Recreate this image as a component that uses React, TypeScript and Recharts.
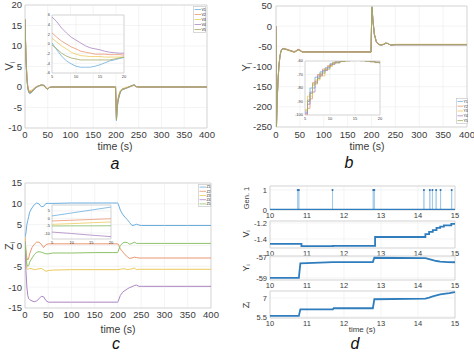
import React from "react";
import { LineChart, Line, XAxis, YAxis, CartesianGrid, ReferenceArea } from "recharts";

// ---- panel a : V_i over time ----
const tA = [0, 1, 2, 4, 6, 8, 10, 14, 18, 24, 30, 36, 42, 46, 50, 54, 60, 100, 150, 199, 200, 201, 202, 204, 207, 210, 215, 220, 230, 236, 240, 244, 250, 300, 350, 400];
const a1 = [16.5, 11.8, 7, 2.2, -0.3, -1.2, -1.6, -1.4, -0.9, -0.2, 0.2, 0.4, 0.4, -0.2, -0.5, -0.1, 0, 0, 0, 0, -4.2, -8.2, -6.2, -3.8, -2.2, -1.2, -0.6, -0.4, 0, 0.3, 0.5, 0.1, 0, 0, 0, 0];
const a2 = [16.5, 12.5, 8, 3, 0.3, -0.8, -1.2, -1.0, -0.6, 0, 0.3, 0.5, 0.3, -0.2, -0.4, -0.1, 0, 0, 0, 0, -3.8, -7.6, -5.8, -3.2, -1.8, -0.9, -0.4, -0.3, 0.1, 0.3, 0.4, 0.1, 0, 0, 0, 0];
const a3 = [16.5, 12, 7.5, 2.8, 0.2, -0.6, -0.9, -0.8, -0.5, 0, 0.3, 0.4, 0.3, -0.2, -0.4, -0.1, 0, 0, 0, 0, -3.6, -7.4, -5.5, -3, -1.6, -0.8, -0.4, -0.2, 0.1, 0.3, 0.4, 0.1, 0, 0, 0, 0];
const a4 = [16.5, 12, 7.5, 2.5, 0, -1, -1.4, -1.2, -0.7, -0.1, 0.3, 0.5, 0.4, -0.3, -0.5, -0.1, 0, 0, 0, 0, -4, -8, -6, -3.5, -2, -1, -0.5, -0.4, 0.1, 0.4, 0.5, 0.1, 0, 0, 0, 0];
const a5 = [16.5, 12, 7.2, 2.3, -0.2, -1.1, -1.5, -1.3, -0.8, -0.1, 0.3, 0.5, 0.4, -0.3, -0.5, -0.1, 0, 0, 0, 0, -4, -8, -6, -3.6, -2.1, -1.1, -0.5, -0.4, 0.1, 0.4, 0.5, 0.1, 0, 0, 0, 0];

const tAi = [5, 6, 7, 8, 9, 10, 11, 12, 13, 14, 15, 16, 17, 18, 19, 20];
const ai1 = [0.2, -1.2, -2.5, -3.5, -4.1, -4.6, -4.8, -4.8, -4.8, -4.6, -4.3, -3.9, -3.5, -3.3, -3.0, -2.8];
const ai2 = [2.3, 1.4, 0.6, 0.0, -0.6, -1.0, -1.5, -1.7, -1.9, -2.1, -2.1, -2.1, -2.2, -2.2, -2.2, -2.3];
const ai3 = [1.2, 0.4, -0.4, -1.0, -1.7, -2.1, -2.4, -2.5, -2.6, -2.6, -2.6, -2.7, -2.7, -2.7, -2.7, -2.7];
const ai4 = [5.6, 4.6, 3.3, 2.3, 1.4, 0.8, 0.2, -0.4, -0.8, -1.0, -1.2, -1.5, -1.7, -1.8, -1.9, -1.9];
const ai5 = [-0.2, -1.0, -1.9, -2.5, -2.9, -3.1, -3.3, -3.3, -3.3, -3.3, -3.3, -3.3, -3.3, -3.1, -2.9, -2.7];

// ---- panel b : Y_i ----
const tB = [0, 0.5, 1, 2, 4, 6, 8, 10, 12, 15, 20, 25, 30, 38, 42, 46, 50, 55, 60, 100, 150, 199, 200, 201, 203, 206, 210, 215, 220, 226, 230, 234, 240, 250, 300, 350, 400];
const b1 = [0, -240, -250, -200, -140, -100, -78, -64, -58, -56, -57, -59, -61, -64, -62, -58, -60, -64, -64, -64, -64, -64, 0, 48, 15, -20, -38, -45, -47, -45, -42, -43, -47, -46, -46, -46, -46];
const b2 = [0, -238, -249, -198, -138, -98, -76, -63, -57, -55, -56, -58, -60, -63, -61, -57, -59, -63, -63, -63, -63, -63, 0, 46, 13, -21, -39, -46, -47, -45, -43, -43, -47, -46, -46, -46, -46];
const b3 = [0, -242, -250, -202, -142, -102, -79, -65, -59, -57, -58, -60, -62, -65, -63, -59, -61, -65, -65, -65, -65, -65, 0, 47, 14, -19, -37, -44, -46, -44, -42, -43, -46, -45, -45, -45, -45];
const b4 = [0, -240, -250, -201, -141, -101, -77, -64, -58, -56, -57, -59, -61, -64, -62, -58, -60, -64, -64, -64, -64, -64, 0, 47, 15, -20, -38, -45, -47, -45, -42, -43, -47, -46, -46, -46, -46];
const b5 = [0, -240, -250, -200, -140, -100, -78, -64, -58, -56, -57, -59, -61, -64, -62, -58, -60, -64, -64, -64, -64, -64, 0, 48, 15, -20, -38, -45, -47, -45, -42, -43, -47, -46, -46, -46, -46];

const tBi = [5, 5.5, 6, 6.5, 7, 7.5, 8, 8.5, 9, 9.5, 10, 10.5, 11, 12, 13, 14, 15, 16, 17, 18, 19, 20];
const bi1 = [-98, -90, -80, -80, -72, -72, -68, -68, -65, -65, -62, -62, -60.5, -59.8, -59.5, -59.3, -59.2, -59.4, -59.7, -60.2, -60.8, -61.5];
const bi2 = [-100, -95, -88, -76, -76, -70, -70, -66, -66, -63.5, -63.5, -61, -61, -60, -59.6, -59.4, -59.3, -59.5, -59.8, -60.3, -60.9, -61.6];
const bi3 = [-96, -86, -86, -78, -74, -74, -71, -71, -67, -64, -64, -62, -60.8, -60.1, -59.7, -59.5, -59.4, -59.6, -59.9, -60.4, -61, -61.7];
const bi4 = [-99, -92, -83, -83, -75, -71, -71, -67, -67, -64.5, -62.5, -62.5, -61, -60.2, -59.8, -59.6, -59.5, -59.7, -60, -60.5, -61.1, -61.8];
const bi5 = [-97, -89, -84, -77, -77, -73, -69, -69, -66, -66, -63, -61.5, -61.5, -60.4, -59.9, -59.7, -59.6, -59.8, -60.1, -60.6, -61.2, -61.9];

// ---- panel c : Z_i ----
const tC = [0, 2, 4, 6, 8, 10, 15, 20, 25, 30, 35, 40, 45, 50, 60, 100, 150, 199, 200, 205, 210, 215, 220, 225, 230, 235, 240, 245, 250, 300, 350, 400];
const c1 = [2, 3, 5, 6, 7, 8, 9, 9.8, 10.2, 10, 9.3, 9.4, 10.1, 10.1, 10.1, 10.2, 10.2, 10.2, 10.1, 8.5, 7.5, 6.8, 6.2, 5.5, 4.8, 4.9, 5.1, 4.9, 4.8, 4.8, 4.8, 4.8];
const c2 = [2, -1, -3, -3.5, -3, -2, -0.5, 0.3, 0.8, 0.8, 0.3, -0.5, 0.2, 0.4, 0.4, 0.4, 0.4, 0.4, 0.4, -0.8, -1.5, -2.2, -2.7, -3.1, -3.0, -2.8, -2.9, -3, -3, -3, -3, -3];
const c3 = [2, -3, -5.5, -5.8, -5.6, -5.5, -5.6, -5.8, -5.7, -5.6, -5.5, -5.8, -6.2, -6, -5.9, -5.8, -5.8, -5.8, -5.8, -5.7, -5.6, -5.6, -5.8, -5.7, -5.6, -5.4, -5.8, -5.7, -5.7, -5.7, -5.7, -5.7];
const c4 = [1, -6, -10, -12, -12.8, -13, -13.3, -13.5, -13.3, -12.8, -12.2, -12.3, -13.2, -13.6, -13.6, -13.6, -13.6, -13.6, -13.5, -12, -11.2, -10.8, -10.4, -10.1, -9.9, -9.6, -9.5, -9.8, -9.8, -9.8, -9.8, -9.8];
const c5 = [1, -2, -4.5, -5, -4.8, -4, -3, -2.2, -1.6, -1.5, -1.6, -1.8, -2, -2, -1.8, -1.8, -1.7, -1.7, -1.5, 0, 0.6, 0.8, 0.7, 0.3, 0.5, 0.8, 0.5, 0.5, 0.5, 0.5, 0.5, 0.5];

const tCi = [5, 10, 15, 20];
const ci1 = [1.6, 3.6, 5.6, 7.6];
const ci2 = [-1.8, -1.3, -0.8, -0.3];
const ci3 = [-4.1, -3.6, -3.0, -2.5];
const ci4 = [-9.3, -10.3, -11.4, -12.4];
const ci5 = [-5.2, -5.1, -5.1, -5.0];

// ---- panel d : zoom 10..15 s ----
const genT = [10.75, 10.78, 11.69, 12.79, 12.82, 14.16, 14.32, 14.39, 14.49, 14.61, 14.91];
const genBase = [10, 15];
const vT = [10, 10.75, 10.85, 11.7, 12.78, 12.84, 14.15, 14.2, 14.3, 14.4, 14.5, 14.6, 14.7, 14.9, 15];
const vV = [-1.46, -1.46, -1.49, -1.485, -1.485, -1.375, -1.375, -1.34, -1.31, -1.29, -1.26, -1.245, -1.23, -1.21, -1.2];
const yT = [10, 10.78, 10.82, 11.7, 12.78, 12.82, 14.2, 14.3, 14.4, 14.5, 14.6, 14.8, 15];
const yV = [-59, -59, -57.6, -57.48, -57.48, -57.07, -57.1, -57.2, -57.3, -57.38, -57.44, -57.48, -57.5];
const zT = [10, 10.78, 10.82, 11.7, 11.72, 12.78, 12.82, 14.2, 14.3, 14.4, 14.5, 14.6, 14.7, 14.85, 15];
const zV = [5.58, 5.58, 6.1, 6.1, 6.19, 6.19, 6.9, 6.95, 7.03, 7.12, 7.2, 7.28, 7.33, 7.38, 7.47];

const mainX = [0, 50, 100, 150, 200, 250, 300, 350, 400];
const insetX = [5, 10, 15, 20];
const dX = [10, 11, 12, 13, 14, 15];

const COLORS = ["#6aaee0", "#ea9670", "#ecc95c", "#ab85c3", "#a3aa62"];
const COLORS_C = ["#6aaee0", "#ea9670", "#ecc95c", "#ab85c3", "#8dc26a"];
const BLUE = "#2f7dbd";
const INK = "#3a3a3a";
const FONT = '"Liberation Sans", Arial, sans-serif';

type Box = { l: number; t: number; r: number; b: number };

function rows(t: number[], series: number[][]) {
  return t.map((x, i) => {
    const r: any = { t: x };
    series.forEach((s, k) => (r["s" + (k + 1)] = s[i]));
    return r;
  });
}

function series(colors: string[], width = 1) {
  return colors.map((c, k) => (
    <Line key={k} dataKey={"s" + (k + 1)} stroke={c} strokeWidth={width} dot={false} isAnimationActive={false} type="linear" />
  ));
}

type FrameProps = {
  box: Box;
  data?: any[];
  xDomain: [number, number];
  yDomain: [number, number];
  xTicks: number[];
  yTicks: number[];
  font?: number;
  yW?: number;
  xH?: number;
  padR?: number;
  pad?: number;
  gap?: number;
  bg?: boolean;
  children?: React.ReactNode;
};

function Frame({ box, data, xDomain, yDomain, xTicks, yTicks, font = 9.5, yW = 24, xH = 14, padR = 10, pad = 8, gap = 2, bg = false, children }: FrameProps) {
  const tick = { fontSize: font, fill: INK, fontFamily: FONT };
  return (
    <div style={{ position: "absolute", left: box.l - yW, top: box.t - pad }}>
      {bg && (
        <div style={{ position: "absolute", left: yW, top: pad, width: box.r - box.l, height: box.b - box.t, background: "#fff" }} />
      )}
      <LineChart
        width={box.r - box.l + yW + padR}
        height={box.b - box.t + pad + xH}
        data={data}
        margin={{ top: pad, right: padR, bottom: 0, left: 0 }}
      >
        <CartesianGrid stroke="#ededed" strokeWidth={0.6} />
        <XAxis type="number" dataKey="t" domain={xDomain} ticks={xTicks} interval={0} allowDataOverflow height={xH}
          axisLine={false} tickLine={false} tickSize={gap} tickMargin={1} tick={tick} />
        <YAxis type="number" domain={yDomain} ticks={yTicks} interval={0} allowDataOverflow width={yW}
          axisLine={false} tickLine={false} tickSize={gap} tickMargin={1} tick={tick} />
        <ReferenceArea x1={xDomain[0]} x2={xDomain[1]} y1={yDomain[0]} y2={yDomain[1]} fill="none" stroke="#d0d0d0" strokeWidth={0.8} ifOverflow="visible" />
        {children}
      </LineChart>
    </div>
  );
}

function MiniLegend({ x, y, w, h, names, colors }: { x: number; y: number; w: number; h: number; names: string[]; colors: string[] }) {
  const rowH = (h - 2) / names.length;
  return (
    <svg style={{ position: "absolute", left: x, top: y }} width={w} height={h}>
      <rect x={0.5} y={0.5} width={w - 1} height={h - 1} fill="#fff" stroke="#cfcfcf" strokeWidth={0.8} />
      {names.map((n, i) => {
        const cy = 1 + rowH * (i + 0.5);
        return (
          <g key={n}>
            <line x1={1.5} x2={w - 5} y1={cy} y2={cy} stroke={colors[i]} strokeWidth={0.8} />
            <text x={w - 4.6} y={cy + 1.3} fontSize={3.6} fill="#222" fontFamily={FONT}>{n}</text>
          </g>
        );
      })}
    </svg>
  );
}

function VLabel({ x, y, size = 11, children }: { x: number; y: number; size?: number; children: React.ReactNode }) {
  return (
    <div style={{ position: "absolute", left: x, top: y, transform: "translate(-50%, -50%) rotate(-90deg)", fontSize: size, whiteSpace: "nowrap", color: INK, lineHeight: 1 }}>
      {children}
    </div>
  );
}

function Text({ x, y, size, italic = false, children }: { x: number; y: number; size: number; italic?: boolean; children: React.ReactNode }) {
  return (
    <div style={{ position: "absolute", left: x, top: y, transform: "translate(-50%, -50%)", fontSize: size, fontStyle: italic ? "italic" : "normal", whiteSpace: "nowrap", color: italic ? "#111" : INK, lineHeight: 1 }}>
      {children}
    </div>
  );
}

const Sub = ({ c }: { c: string }) => (
  <span>{c}<span style={{ fontSize: "0.6em", verticalAlign: "-0.25em" }}>i</span></span>
);

export default function App() {
  const stems = genT.flatMap((t) => [{ t, g: 0 }, { t, g: 1 }, { t, g: 0 }]);
  const base = genBase.map((t) => ({ t, g: 0 }));
  const stemDot = (p: any) =>
    p.payload && p.payload.g === 1 ? (
      <circle key={"d" + p.index} cx={p.cx} cy={p.cy} r={1} fill="#2a6ea8" />
    ) : (
      <g key={"d" + p.index} />
    );
  const dLine = (t: number[], v: number[], step = false) => (
    <Line data={t.map((x, i) => ({ t: x, v: v[i] }))} dataKey="v" stroke={BLUE} strokeWidth={1.8} dot={false} isAnimationActive={false} type={step ? "stepAfter" : "linear"} />
  );

  return (
    <div style={{ position: "absolute", left: 0, top: 0, width: 474, height: 353, overflow: "hidden", background: "#fff", fontFamily: FONT }}>
      {/* a */}
      <Frame box={{ l: 25, t: 5, r: 207, b: 128 }} data={rows(tA, [a1, a2, a3, a4, a5])} xDomain={[0, 400]} yDomain={[-10, 20]}
        xTicks={mainX} yTicks={[-10, -5, 0, 5, 10, 15, 20]} pad={5}>
        {series(COLORS)}
      </Frame>
      <Frame box={{ l: 52, t: 15, r: 124, b: 73 }} data={rows(tAi, [ai1, ai2, ai3, ai4, ai5])} xDomain={[5, 20]} yDomain={[-6, 6]}
        xTicks={insetX} yTicks={[-6, -4, -2, 0, 2, 4, 6]} font={4} yW={7} xH={6} padR={3} pad={3} gap={1} bg>
        {series(COLORS, 0.8)}
      </Frame>
      <MiniLegend x={193} y={6} w={13} h={27} names={["V1", "V2", "V3", "V4", "V5"]} colors={COLORS} />
      <VLabel x={10} y={66}><Sub c="V" /></VLabel>
      <Text x={115} y={146} size={10.5}>time (s)</Text>
      <Text x={115} y={164} size={16} italic>a</Text>

      {/* b */}
      <Frame box={{ l: 276, t: 6, r: 467, b: 127 }} data={rows(tB, [b1, b2, b3, b4, b5])} xDomain={[0, 400]} yDomain={[-250, 50]}
        xTicks={mainX} yTicks={[-250, -200, -150, -100, -50, 0, 50]} padR={7} pad={6} yW={26} gap={3}>
        {series(COLORS)}
      </Frame>
      <Frame box={{ l: 305, t: 61, r: 380, b: 115 }} data={rows(tBi, [bi1, bi2, bi3, bi4, bi5])} xDomain={[5, 20]} yDomain={[-100, -60]}
        xTicks={insetX} yTicks={[-100, -90, -80, -70, -60]} font={4} yW={11} xH={6} padR={3} pad={3} gap={1} bg>
        {COLORS.map((c, k) => (
          <Line key={k} dataKey={"s" + (k + 1)} stroke={c} strokeWidth={0.8} dot={false} isAnimationActive={false} type="stepAfter" />
        ))}
      </Frame>
      <MiniLegend x={456} y={98} w={12} h={26} names={["Y1", "Y2", "Y3", "Y4", "Y5"]} colors={COLORS} />
      <VLabel x={247} y={67}><Sub c="Y" /></VLabel>
      <Text x={367} y={146} size={10.5}>time (s)</Text>
      <Text x={349} y={163} size={16} italic>b</Text>

      {/* c */}
      <Frame box={{ l: 25, t: 183, r: 211, b: 308 }} data={rows(tC, [c1, c2, c3, c4, c5])} xDomain={[0, 400]} yDomain={[-15, 15]}
        xTicks={mainX} yTicks={[-15, -10, -5, 0, 5, 10, 15]}>
        {series(COLORS_C)}
      </Frame>
      <Frame box={{ l: 52, t: 205, r: 111, b: 239 }} data={rows(tCi, [ci1, ci2, ci3, ci4, ci5])} xDomain={[5, 20]} yDomain={[-14, 9]}
        xTicks={insetX} yTicks={[-10, -5, 0, 5]} font={4} yW={8} xH={6} padR={3} pad={3} gap={1} bg>
        {series(COLORS_C, 0.8)}
      </Frame>
      <MiniLegend x={198} y={184} w={13} h={23} names={["Z1", "Z2", "Z3", "Z4", "Z5"]} colors={COLORS_C} />
      <VLabel x={10} y={246}><Sub c="Z" /></VLabel>
      <Text x={118} y={329} size={10.5}>time (s)</Text>
      <Text x={116} y={344} size={16} italic>c</Text>

      {/* d */}
      <Frame box={{ l: 270, t: 186, r: 455, b: 210 }} data={stems} xDomain={[10, 15]} yDomain={[0, 1.2]}
        xTicks={dX} yTicks={[0, 1]} font={7.5} yW={18} xH={10} pad={4}>
        <Line dataKey="g" stroke="#9cc7e6" strokeWidth={0.8} dot={stemDot} isAnimationActive={false} type="linear" />
        <Line data={base} dataKey="g" stroke={BLUE} strokeWidth={2.4} dot={false} isAnimationActive={false} type="linear" />
      </Frame>
      <Frame box={{ l: 270, t: 221, r: 455, b: 248 }} xDomain={[10, 15]} yDomain={[-1.5125, -1.175]}
        xTicks={dX} yTicks={[-1.4, -1.2]} font={7.5} yW={18} xH={10} pad={4}>
        {dLine(vT, vV, true)}
      </Frame>
      <Frame box={{ l: 270, t: 256, r: 455, b: 280 }} xDomain={[10, 15]} yDomain={[-59.2, -56.9]}
        xTicks={dX} yTicks={[-59, -57]} font={7.5} yW={18} xH={10} pad={4}>
        {dLine(yT, yV)}
      </Frame>
      <Frame box={{ l: 270, t: 291, r: 455, b: 318 }} xDomain={[10, 15]} yDomain={[5.42, 7.55]}
        xTicks={dX} yTicks={[5.5, 7]} font={7.5} yW={18} xH={10} pad={4}>
        {dLine(zT, zV)}
      </Frame>
      <VLabel x={247} y={198} size={7.5}>Gen. 1</VLabel>
      <VLabel x={247} y={234} size={9}><Sub c="V" /></VLabel>
      <VLabel x={247} y={268} size={9}><Sub c="Y" /></VLabel>
      <VLabel x={247} y={305} size={9}><Sub c="Z" /></VLabel>
      <Text x={362} y={330} size={8}>time (s)</Text>
      <Text x={355} y={344} size={16} italic>d</Text>
    </div>
  );
}
